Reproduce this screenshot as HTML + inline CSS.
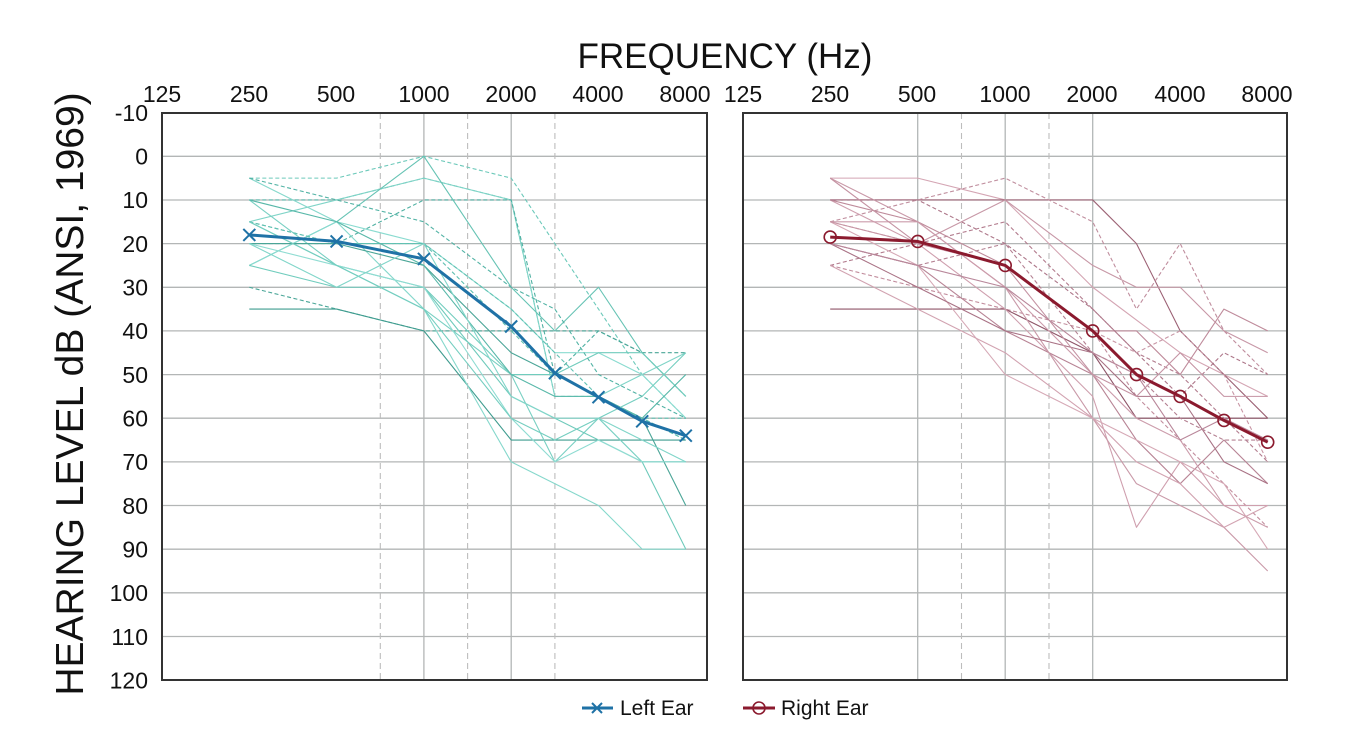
<!DOCTYPE html>
<html><head><meta charset="utf-8"><style>
html,body{margin:0;padding:0;background:#fff;}
svg{display:block;}
text{font-family:"Liberation Sans",Arial,sans-serif;fill:#111;}
.t polyline{fill:none;vector-effect:non-scaling-stroke;stroke-width:1.1;stroke-linejoin:round;}
.d{stroke-dasharray:4 2.5;}
</style></head><body>
<svg width="1361" height="752" viewBox="0 0 1361 752" xmlns="http://www.w3.org/2000/svg">
<rect x="0" y="0" width="1361" height="752" fill="#fff"/>

<!-- Title -->
<text x="725" y="68" font-size="35" text-anchor="middle">FREQUENCY (Hz)</text>

<!-- Y axis label -->
<text transform="translate(83,394) rotate(-90)" font-size="39" text-anchor="middle">HEARING LEVEL dB (ANSI, 1969)</text>

<!-- X tick labels -->
<g font-size="23" text-anchor="middle">
<text x="162" y="102">125</text><text x="249" y="102">250</text><text x="336" y="102">500</text><text x="424" y="102">1000</text><text x="511" y="102">2000</text><text x="598" y="102">4000</text><text x="685" y="102">8000</text>
<text x="743" y="102">125</text><text x="830" y="102">250</text><text x="917" y="102">500</text><text x="1005" y="102">1000</text><text x="1092" y="102">2000</text><text x="1180" y="102">4000</text><text x="1267" y="102">8000</text>
</g>
<!-- Y tick labels -->
<g font-size="23" text-anchor="end">
<text x="148" y="121">-10</text><text x="148" y="164.5">0</text><text x="148" y="208">10</text><text x="148" y="252">20</text><text x="148" y="295.5">30</text><text x="148" y="339">40</text><text x="148" y="383">50</text><text x="148" y="426.5">60</text><text x="148" y="470">70</text><text x="148" y="514">80</text><text x="148" y="557.5">90</text><text x="148" y="601">100</text><text x="148" y="645">110</text><text x="148" y="688.5">120</text>
</g>

<!-- Grid left -->
<g stroke="#b3b6b6" stroke-width="1.3">
<line x1="162" x2="707" y1="156.3" y2="156.3"/><line x1="162" x2="707" y1="200" y2="200"/><line x1="162" x2="707" y1="243.6" y2="243.6"/><line x1="162" x2="707" y1="287.3" y2="287.3"/><line x1="162" x2="707" y1="330.9" y2="330.9"/><line x1="162" x2="707" y1="374.6" y2="374.6"/><line x1="162" x2="707" y1="418.2" y2="418.2"/><line x1="162" x2="707" y1="461.9" y2="461.9"/><line x1="162" x2="707" y1="505.5" y2="505.5"/><line x1="162" x2="707" y1="549.2" y2="549.2"/><line x1="162" x2="707" y1="592.8" y2="592.8"/><line x1="162" x2="707" y1="636.5" y2="636.5"/>
<line x1="743" x2="1287" y1="156.3" y2="156.3"/><line x1="743" x2="1287" y1="200" y2="200"/><line x1="743" x2="1287" y1="243.6" y2="243.6"/><line x1="743" x2="1287" y1="287.3" y2="287.3"/><line x1="743" x2="1287" y1="330.9" y2="330.9"/><line x1="743" x2="1287" y1="374.6" y2="374.6"/><line x1="743" x2="1287" y1="418.2" y2="418.2"/><line x1="743" x2="1287" y1="461.9" y2="461.9"/><line x1="743" x2="1287" y1="505.5" y2="505.5"/><line x1="743" x2="1287" y1="549.2" y2="549.2"/><line x1="743" x2="1287" y1="592.8" y2="592.8"/><line x1="743" x2="1287" y1="636.5" y2="636.5"/>
<line x1="423.9" x2="423.9" y1="113" y2="680"/><line x1="511.2" x2="511.2" y1="113" y2="680"/>
<line x1="917.7" x2="917.7" y1="113" y2="680"/><line x1="1005.2" x2="1005.2" y1="113" y2="680"/><line x1="1092.7" x2="1092.7" y1="113" y2="680"/>
</g>
<g stroke="#bdbdbd" stroke-width="1.1" stroke-dasharray="6 4">
<line x1="380.3" x2="380.3" y1="113" y2="680"/><line x1="467.6" x2="467.6" y1="113" y2="680"/><line x1="554.9" x2="554.9" y1="113" y2="680"/>
<line x1="961.5" x2="961.5" y1="113" y2="680"/><line x1="1049" x2="1049" y1="113" y2="680"/>
</g>

<!-- Left individual curves (x = octaves above 125 Hz, y = dB) -->
<g class="t" transform="translate(162,156.3) scale(87.3,4.365)">
<polyline class="d" stroke="#6cc9ba" points="1,5 2,5 3,0 4,5 4.5,20 5,35 5.5,50 6,60"/>
<polyline class="d" stroke="#5cbcae" points="1,10 2,10 3,5 4,10 4.5,55 5,55 6,65"/>
<polyline stroke="#7fd4c7" points="1,15 2,10 3,5 4,10 4.5,55 5,55 5.5,50 6,45"/>
<polyline class="d" stroke="#4fb0a2" points="1,15 2,20 3,10 4,10 4.5,50 5,40 5.5,45 6,55"/>
<polyline stroke="#66c3b4" points="1,25 2,15 3,0 4,30 4.5,40 5,30 5.5,45 6,55"/>
<polyline stroke="#8adbd0" points="1,25 2,15 3,20 4,35 4.5,45 5,45 5.5,50 6,60"/>
<polyline class="d" stroke="#5fbfb0" points="1,20 2,20 3,20 4,40 4.5,50 5,55 5.5,60 6,65"/>
<polyline class="d" stroke="#4aa698" points="1,30 2,35 3,40 4,40 5,40 5.5,45 6,45"/>
<polyline stroke="#3f9c8f" points="1,35 2,35 3,40 4,65 5,65 5.5,65 6,65"/>
<polyline stroke="#79d0c3" points="1,10 2,25 3,35 4,50 4.5,70 5,60 5.5,70 6,70"/>
<polyline stroke="#6fcabb" points="1,15 2,25 3,30 4,55 4.5,60 5,65 5.5,70 6,90"/>
<polyline stroke="#86d8cc" points="1,5 2,15 3,35 4,70 5,80 5.5,90 6,90"/>
<polyline stroke="#4aa597" points="1,20 2,20 3,25 4,45 4.5,50 5,55 5.5,60 6,80"/>
<polyline stroke="#70ccbd" points="1,25 2,30 3,30 4,50 4.5,50 5,45 5.5,45 6,55"/>
<polyline class="d" stroke="#62c2b3" points="1,15 2,20 3,20 4,35 4.5,45 5,55 5.5,60 6,60"/>
<polyline stroke="#8fdcd2" points="1,20 2,25 3,30 4,60 4.5,70 5,65 5.5,70 6,70"/>
<polyline stroke="#58b8a9" points="1,10 2,15 3,25 4,50 4.5,55 5,55 5.5,60 6,50"/>
<polyline stroke="#74cec0" points="1,15 2,25 3,35 4,60 4.5,65 5,60 5.5,55 6,45"/>
<polyline class="d" stroke="#52b3a5" points="1,5 2,10 3,15 4,30 4.5,35 5,50 5.5,55 6,60"/>
<polyline stroke="#80d5c9" points="1,20 2,30 3,20 4,55 4.5,60 5,60 5.5,65 6,70"/>
</g>

<!-- Right individual curves -->
<g class="t" transform="translate(742.7,156.3) scale(87.5,4.365)">
<polyline stroke="#d4a5b3" points="1,5 2,5 3,10 4,30 5,45 6,55"/>
<polyline stroke="#9c6275" points="1,10 2,10 3,10 4,10 4.5,20 5,40 5.5,50 6,60"/>
<polyline class="d" stroke="#c08e9e" points="1,15 2,10 3,5 4,15 4.5,35 5,20 5.5,40 6,50"/>
<polyline stroke="#c797a6" points="1,15 2,20 3,10 4,25 4.5,30 5,30 5.5,40 6,45"/>
<polyline class="d" stroke="#b27b8d" points="1,25 2,20 3,15 4,35 4.5,45 5,50 5.5,60 6,70"/>
<polyline class="d" stroke="#c28d9d" points="1,25 2,30 3,35 4,40 4.5,55 5,65 5.5,75 6,85"/>
<polyline stroke="#8f5568" points="1,35 2,35 3,35 4,45 4.5,60 5,60 5.5,60 6,60"/>
<polyline stroke="#cf9fae" points="1,10 2,20 3,35 4,55 4.5,85 5,70 5.5,80 6,80"/>
<polyline stroke="#b88495" points="1,20 2,25 3,40 4,50 4.5,65 5,75 5.5,65 6,75"/>
<polyline stroke="#c999a8" points="1,5 2,15 3,30 4,60 4.5,75 5,80 5.5,85 6,95"/>
<polyline stroke="#d6a9b6" points="1,15 2,25 3,50 4,60 4.5,65 5,70 5.5,75 6,90"/>
<polyline stroke="#a97285" points="1,20 2,30 3,40 4,45 4.5,55 5,55 5.5,70 6,75"/>
<polyline stroke="#bf8b9b" points="1,10 2,15 3,25 4,40 4.5,40 5,50 5.5,35 6,40"/>
<polyline class="d" stroke="#b48092" points="1,20 2,25 3,20 4,45 4.5,50 5,60 5.5,65 6,65"/>
<polyline stroke="#cc9cab" points="1,15 2,15 3,30 4,50 4.5,60 5,65 5.5,80 6,85"/>
<polyline stroke="#d2a3b1" points="1,25 2,35 3,45 4,60 4.5,70 5,75 5.5,85 6,80"/>
<polyline class="d" stroke="#ad7689" points="1,10 2,10 3,20 4,35 4.5,45 5,55 5.5,45 6,50"/>
<polyline stroke="#c593a3" points="1,5 2,20 3,25 4,50 4.5,55 5,45 5.5,55 6,55"/>
<polyline stroke="#b9879a" points="1,20 2,25 3,30 4,45 4.5,50 5,65 5.5,60 6,65"/>
<polyline class="d" stroke="#c896a5" points="1,15 2,20 3,25 4,40 4.5,45 5,40 5.5,50 6,70"/>
</g>

<!-- Panel borders -->
<rect x="162" y="113" width="545" height="567" fill="none" stroke="#333" stroke-width="2"/>
<rect x="743" y="113" width="544" height="567" fill="none" stroke="#333" stroke-width="2"/>

<!-- Left mean -->
<polyline fill="none" stroke="#1f72a6" stroke-width="3" stroke-linejoin="round" points="249.3,234.9 336.6,241.4 423.9,258.9 511.2,326.5 554.9,373.2 598.5,397.2 642.2,421.3 685.8,435.7"/>
<g stroke="#1f72a6" stroke-width="2">
<path d="M243.3,228.9 l12,12 M255.3,228.9 l-12,12"/>
<path d="M330.6,235.4 l12,12 M342.6,235.4 l-12,12"/>
<path d="M417.9,252.9 l12,12 M429.9,252.9 l-12,12"/>
<path d="M505.2,320.5 l12,12 M517.2,320.5 l-12,12"/>
<path d="M548.9,367.2 l12,12 M560.9,367.2 l-12,12"/>
<path d="M592.5,391.2 l12,12 M604.5,391.2 l-12,12"/>
<path d="M636.2,415.3 l12,12 M648.2,415.3 l-12,12"/>
<path d="M679.8,429.7 l12,12 M691.8,429.7 l-12,12"/>
</g>

<!-- Right mean -->
<polyline fill="none" stroke="#8b1a2e" stroke-width="3" stroke-linejoin="round" points="830.2,237.1 917.7,241.4 1005.2,265.4 1092.7,330.9 1136.5,374.6 1180.2,396.4 1224,420.4 1267.7,442.2"/>
<g fill="none" stroke="#8b1a2e" stroke-width="1.6">
<circle cx="830.2" cy="237.1" r="6"/><circle cx="917.7" cy="241.4" r="6"/><circle cx="1005.2" cy="265.4" r="6"/><circle cx="1092.7" cy="330.9" r="6"/><circle cx="1136.5" cy="374.6" r="6"/><circle cx="1180.2" cy="396.4" r="6"/><circle cx="1224" cy="420.4" r="6"/><circle cx="1267.7" cy="442.2" r="6"/>
</g>

<!-- Legend -->
<line x1="582" x2="613" y1="708" y2="708" stroke="#1f72a6" stroke-width="3"/>
<path d="M592,703 l10,10 M602,703 l-10,10" stroke="#1f72a6" stroke-width="2"/>
<text x="620" y="715" font-size="21">Left Ear</text>
<line x1="743" x2="775" y1="708" y2="708" stroke="#8b1a2e" stroke-width="3"/>
<circle cx="759" cy="708" r="6" fill="none" stroke="#8b1a2e" stroke-width="1.6"/>
<text x="781" y="715" font-size="21">Right Ear</text>
</svg>
</body></html>
